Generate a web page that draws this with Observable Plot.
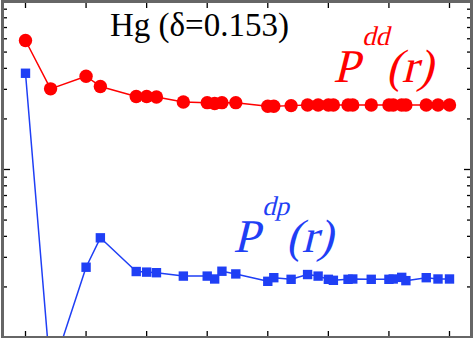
<!DOCTYPE html>
<html>
<head>
<meta charset="utf-8">
<script src="https://cdn.jsdelivr.net/npm/d3@7"></script>
<script src="https://cdn.jsdelivr.net/npm/@observablehq/plot@0.6"></script>
<style>
  html, body { margin: 0; padding: 0; background: #fff; }
  #chart svg { display: block; }
</style>
</head>
<body>
<div id="chart"></div>
<script>
// distances r (square lattice)
const r = [1, 1.414, 2, 2.236, 2.828, 3, 3.162, 3.606, 4, 4.123, 4.243, 4.472, 5, 5.099, 5.385, 5.657, 5.831, 6, 6.083, 6.325, 6.403, 6.708, 7, 7.071, 7.211, 7.280, 7.616, 7.810, 8];
const pdd = [0.586, 0.302, 0.359, 0.312, 0.272, 0.272, 0.270, 0.252, 0.250, 0.247, 0.250, 0.250, 0.238, 0.238, 0.240, 0.242, 0.242, 0.242, 0.242, 0.242, 0.242, 0.242, 0.242, 0.242, 0.242, 0.242, 0.242, 0.242, 0.242];
const pdp = [0.374, 0.00594, 0.0262, 0.0392, 0.0247, 0.0245, 0.0243, 0.0232, 0.0232, 0.0223, 0.0248, 0.0239, 0.0216, 0.0227, 0.0222, 0.0237, 0.0232, 0.0222, 0.0219, 0.0222, 0.0223, 0.0222, 0.0222, 0.0223, 0.0228, 0.0218, 0.0227, 0.0223, 0.0223];
const xTicks = [1, 2, 3, 4, 5, 6, 7, 8];
const yMajor = [0.01, 0.1, 1];
const yMinor = [0.02, 0.03, 0.04, 0.05, 0.06, 0.07, 0.08, 0.09, 0.2, 0.3, 0.4, 0.5, 0.6, 0.7, 0.8, 0.9];
const title = "Hg (δ=0.153)";

const dd = r.map((v, i) => ({r: v, p: pdd[i]}));
const dp = r.map((v, i) => ({r: v, p: pdp[i]}));

const RED = "#ff0000";
const BLUE = "#1f3ff5";
const blank = () => "";

const plot = Plot.plot({
  width: 474,
  height: 338,
  marginTop: 1,
  marginBottom: 1,
  marginLeft: 2,
  marginRight: 3,
  x: {type: "linear", domain: [0.6203, 8.3632]},
  y: {type: "log", domain: [0.01, 1]},
  marks: [
    Plot.axisX(xTicks, {anchor: "top", tickSize: -6, tickFormat: blank, label: null, stroke: "#000", strokeWidth: 1.3}),
    Plot.axisX(xTicks, {anchor: "bottom", tickSize: -6, tickFormat: blank, label: null, stroke: "#000", strokeWidth: 1.3}),
    Plot.axisY(yMajor, {anchor: "left", tickSize: -8, tickFormat: blank, label: null, stroke: "#000", strokeWidth: 1.3}),
    Plot.axisY(yMinor, {anchor: "left", tickSize: -5, tickFormat: blank, label: null, stroke: "#000", strokeWidth: 1.3}),
    Plot.axisY(yMajor, {anchor: "right", tickSize: -8, tickFormat: blank, label: null, stroke: "#000", strokeWidth: 1.3}),
    Plot.axisY(yMinor, {anchor: "right", tickSize: -5, tickFormat: blank, label: null, stroke: "#000", strokeWidth: 1.3}),
    Plot.line(dd, {x: "r", y: "p", stroke: RED, strokeWidth: 1.5, clip: true}),
    Plot.dot(dd, {x: "r", y: "p", r: 6.7, fill: RED, stroke: null, clip: true}),
    Plot.line(dp, {x: "r", y: "p", stroke: BLUE, strokeWidth: 1.5, clip: true}),
    Plot.dot(dp, {x: "r", y: "p", symbol: "square", r: 5.3, fill: BLUE, stroke: null, clip: true}),
    Plot.frame({stroke: "#666", strokeWidth: 3})
  ]
});
document.getElementById("chart").appendChild(plot);

const svg = d3.select(plot);
function addText(str, x, y, size, color, skew) {
  svg.append("text")
    .attr("x", 0).attr("y", 0)
    .attr("transform", skew ? `translate(${x},${y}) skewX(-14)` : `translate(${x},${y})`)
    .attr("text-anchor", "start")
    .attr("fill", color)
    .attr("style", `font-family: 'Liberation Serif'; font-size: ${size}px;`)
    .text(str);
}
addText(title, 110, 36, 33, "#000", false);

// italic look via skew of the upright serif face
function pLabel(x, y, sup, color) {
  addText("P", x, y, 47, color, true);
  addText(sup, x + 29, y - 37, 27, color, true);
  addText("(r)", x + 53, y, 47, color, true);
}
pLabel(333, 82, "dd", RED);
pLabel(233, 252, "dp", BLUE);
</script>
</body>
</html>
